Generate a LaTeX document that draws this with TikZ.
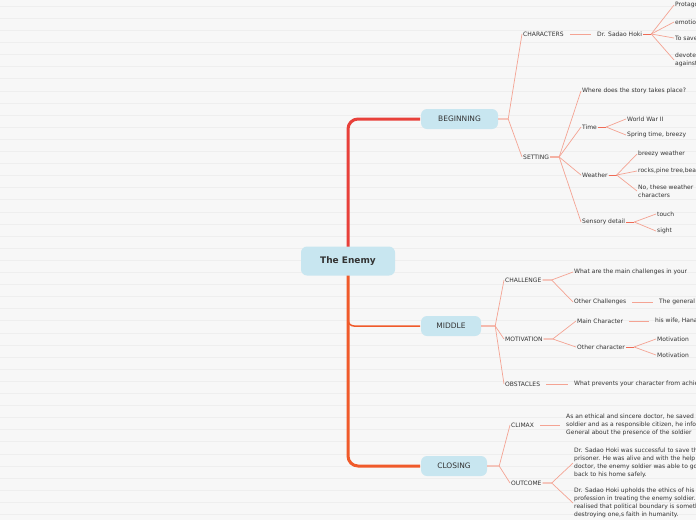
\documentclass[tikz,border=0pt]{standalone}
\usepackage{fontspec}
\setmainfont{DejaVu Sans}
\usetikzlibrary{calc}
\definecolor{bg}{HTML}{F7F7F7}
\definecolor{rule}{HTML}{EEEEEE}
\definecolor{bub}{HTML}{C8E6F0}
\definecolor{lnk}{HTML}{F4A393}
\definecolor{lnkd}{HTML}{EE6A55}
\definecolor{trunkA}{HTML}{E8403A}
\definecolor{trunkB}{HTML}{F05A2A}
\definecolor{txt}{HTML}{333333}
\begin{document}
\begin{tikzpicture}[x=1pt,y=-1pt,
  t/.style={anchor=west,inner sep=1pt,font=\fontsize{6}{8}\selectfont,text=txt,align=left},
  bubble/.style={fill=bub,rounded corners=6pt,minimum height=20pt,inner xsep=8pt,font=\fontsize{7.5}{9}\selectfont,text=txt},
  ln/.style={draw=lnk,line width=0.7pt},
  lnd/.style={draw=lnkd,line width=1pt}]
\fill[bg] (0,0) rectangle (696,520);
\useasboundingbox (0,0) rectangle (696,520);
\foreach \y in {6,18.1,...,520} \draw[rule,line width=0.4pt] (0,\y) -- (696,\y);
% trunk
\draw[trunkA,line width=3pt,rounded corners=10pt] (420,119) -- (348,119) -- (348,261);
\draw[trunkB,line width=3pt,rounded corners=10pt] (348,255) -- (348,466) -- (420,466);
\draw[trunkB,line width=1.5pt,rounded corners=6pt] (348,300) -- (348,326) -- (420,326);
\node[bubble,fill=bub,minimum width=94pt,minimum height=29pt,font=\fontsize{9}{11}\selectfont\bfseries] (root) at (348,261) {The Enemy};
\node[bubble,minimum width=77pt] (beg) at (459.5,119) {BEGINNING};
\node[bubble,minimum width=60pt] (mid) at (451,326) {MIDDLE};
\node[bubble,minimum width=66pt] (clo) at (454,466) {CLOSING};
% level 2
\node[t] (cha) at (522,34) {CHARACTERS};
\node[t] (set) at (522,157) {SETTING};
\node[t] (chl) at (504,280) {CHALLENGE};
\node[t] (mot) at (504,339) {MOTIVATION};
\node[t] (obs) at (504,384) {OBSTACLES};
\node[t] (cli) at (510,425) {CLIMAX};
\node[t] (out) at (510,483) {OUTCOME};
% level 3
\node[t] (doc) at (596,34) {Dr. Sadao Hoki};
\node[t] (p1) at (674,5) {Protagonist};
\node[t] (p2) at (674,22) {emotional};
\node[t] (p3) at (674,38) {To save};
\node[t] (p4) at (674,60) {devoted\\against};
\node[t] (wh) at (581,91) {Where does the story takes place?};
\node[t] (tim) at (581,127) {Time};
\node[t] (ww) at (626,119) {World War II};
\node[t] (sp) at (626,135) {Spring time, breezy};
\node[t] (wea) at (581,175) {Weather};
\node[t] (w1) at (637,154) {breezy weather};
\node[t] (w2) at (637,171) {rocks,pine tree,beach};
\node[t] (w3) at (637,191) {No, these weather\\characters};
\node[t] (sen) at (581,222) {Sensory detail};
\node[t] (s1) at (656,214) {touch};
\node[t] (s2) at (656,231) {sight};
\node[t] (c1) at (573,272) {What are the main challenges in your};
\node[t] (c2) at (573,302) {Other Challenges};
\node[t] (c3) at (658,302) {The general};
\node[t] (m1) at (576,321) {Main Character};
\node[t] (m2) at (654,321) {his wife, Hana};
\node[t] (m3) at (576,347) {Other character};
\node[t] (m4) at (656,339) {Motivation};
\node[t] (m5) at (656,355) {Motivation};
\node[t] (o1) at (573,384) {What prevents your character from achieving};
\node[t] (cl1) at (565,425) {As an ethical and sincere doctor, he saved the\\soldier and as a responsible citizen, he informed\\General about the presence of the soldier};
\node[t] (ou1) at (573,463) {Dr. Sadao Hoki was successful to save the\\prisoner. He was alive and with the help of the\\doctor, the enemy soldier was able to go\\back to his home safely.};
\node[t] (ou2) at (573,503) {Dr. Sadao Hoki upholds the ethics of his\\profession in treating the enemy soldier. He\\realised that political boundary is something\\destroying one,s faith in humanity.};
% connectors
\foreach \p/\k/\c in {beg/10/cha, beg/10/set, mid/14/chl, mid/14/mot, mid/14/obs, clo/12/cli, clo/12/out}
  \draw[ln] (\p.east) -- ($(\p.east)+(\k,0)$) -- (\c.west);
\foreach \p/\c in {set/wh, set/tim, set/wea, set/sen, chl/c1, chl/c2, mot/m1, mot/m3, out/ou1, out/ou2}
  \draw[ln] (\p.east) -- ($(\p.east)+(9,0)$) -- (\c.west);
\foreach \p/\c in {doc/p1, doc/p2, doc/p3, doc/p4, tim/ww, tim/sp, wea/w1, wea/w2, wea/w3, sen/s1, sen/s2, m3/m4, m3/m5}
  {\draw[lnd] (\p.east) -- ($(\p.east)+(8,0)$);
   \draw[ln] ($(\p.east)+(8,0)$) -- (\c.west);}
\foreach \p/\c in {cha/doc, c2/c3, m1/m2, obs/o1, cli/cl1}
  \draw[ln] ($(\p.east)+(5,0)$) -- ($(\c.west)+(-5,0)$);
\end{tikzpicture}
\end{document}
